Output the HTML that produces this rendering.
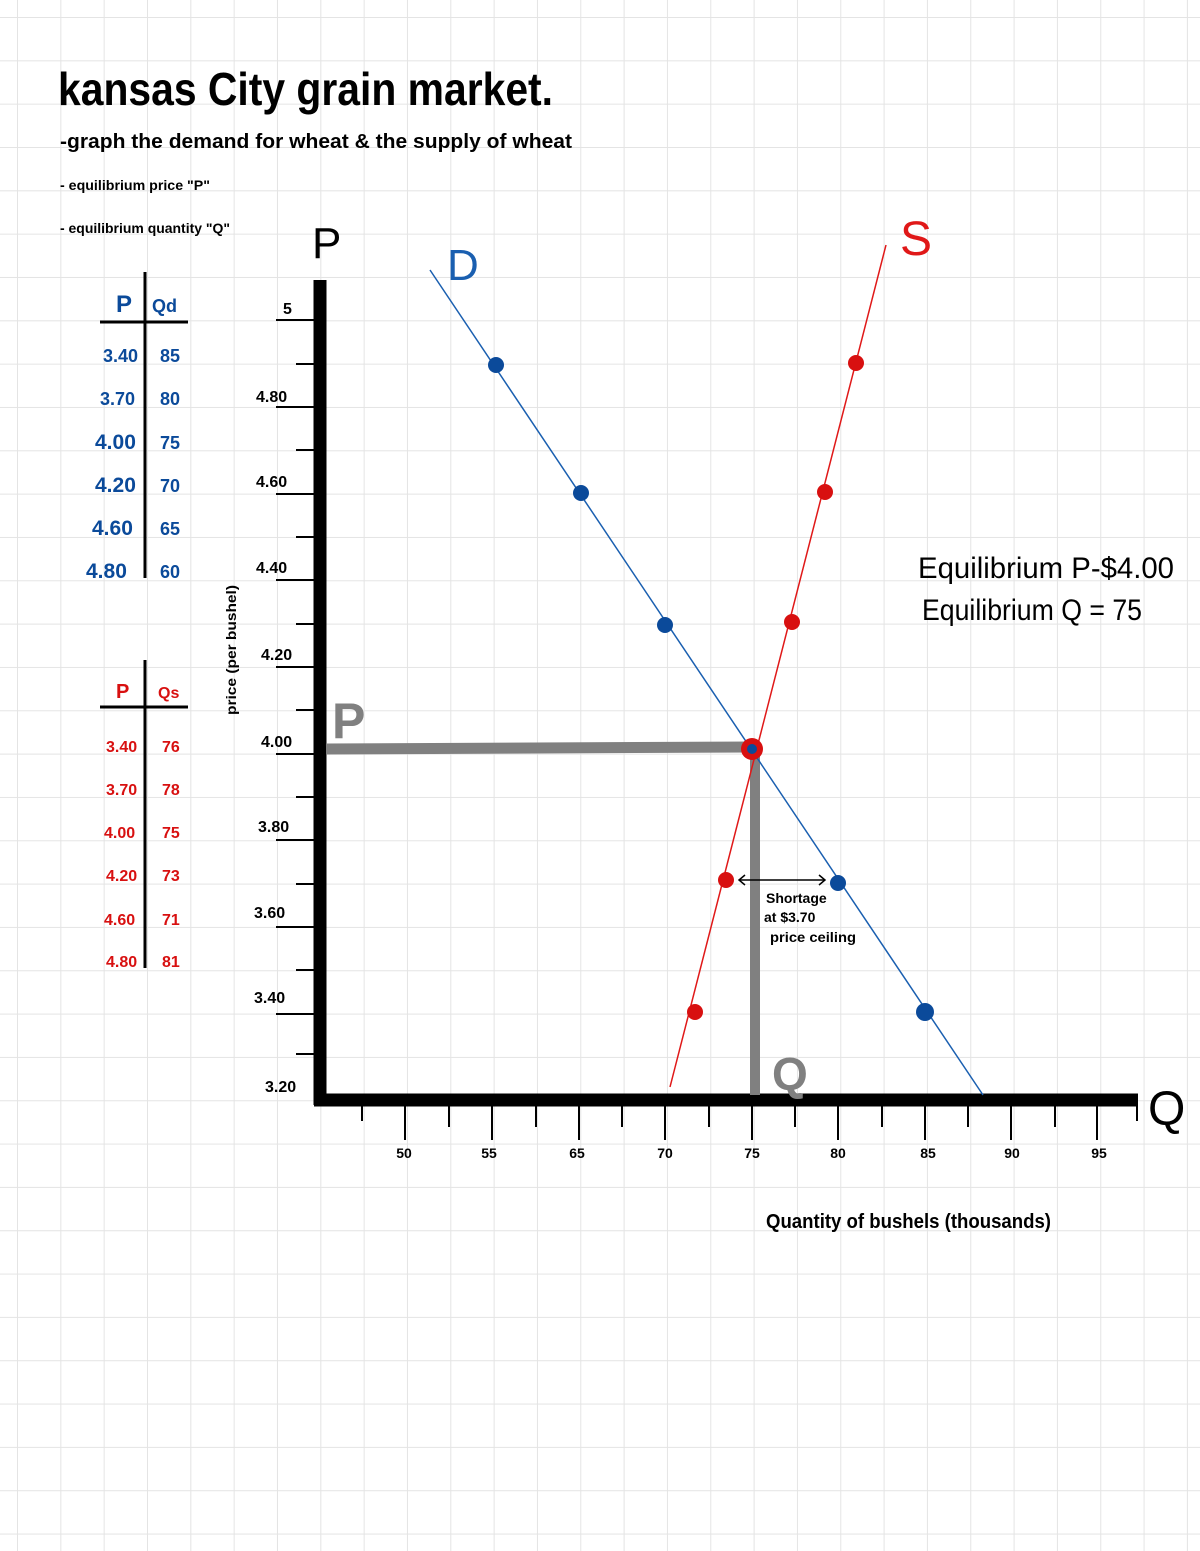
<!DOCTYPE html>
<html><head><meta charset="utf-8"><style>
html,body{margin:0;padding:0;background:#fff}
svg{display:block}
text{font-family:"Liberation Sans",sans-serif}
</style></head><body>
<svg width="1200" height="1551" viewBox="0 0 1200 1551" xmlns="http://www.w3.org/2000/svg">
<defs>
<pattern id="g" x="17" y="17" width="43.33" height="43.33" patternUnits="userSpaceOnUse">
<path d="M0 0H43.33M0 0V43.33" stroke="#e4e4e4" stroke-width="2" fill="none"/>
</pattern>
</defs>
<rect width="1200" height="1551" fill="#fff"/>
<rect width="1200" height="1551" fill="url(#g)"/>

<!-- title -->
<text x="58" y="105" font-size="46" font-weight="bold" textLength="495" lengthAdjust="spacingAndGlyphs" fill="#000">kansas City  grain market.</text>
<text x="60" y="148" font-size="20" font-weight="bold" textLength="512" lengthAdjust="spacingAndGlyphs">-graph the demand for wheat &amp; the supply of wheat</text>
<text x="60" y="190" font-size="14" font-weight="bold" textLength="150" lengthAdjust="spacingAndGlyphs">- equilibrium price "P"</text>
<text x="60" y="233" font-size="14" font-weight="bold" textLength="170" lengthAdjust="spacingAndGlyphs">- equilibrium quantity "Q"</text>

<!-- blue table -->
<g fill="#0b4a9a" font-weight="bold" font-size="18">
<line x1="145" y1="272" x2="145" y2="578" stroke="#000" stroke-width="3"/>
<line x1="100" y1="322" x2="188" y2="322" stroke="#000" stroke-width="3"/>
<text x="116" y="312" font-size="24">P</text><text x="152" y="312">Qd</text>
<text x="103" y="362">3.40</text><text x="160" y="362">85</text>
<text x="100" y="405">3.70</text><text x="160" y="405">80</text>
<text x="95" y="449" font-size="21">4.00</text><text x="160" y="449">75</text>
<text x="95" y="492" font-size="21">4.20</text><text x="160" y="492">70</text>
<text x="92" y="535" font-size="21">4.60</text><text x="160" y="535">65</text>
<text x="86" y="578" font-size="21">4.80</text><text x="160" y="578">60</text>
</g>
<!-- red table -->
<g fill="#d81010" font-weight="bold" font-size="16">
<line x1="145" y1="660" x2="145" y2="968" stroke="#000" stroke-width="3"/>
<line x1="100" y1="707" x2="188" y2="707" stroke="#000" stroke-width="3"/>
<text x="116" y="698" font-size="20">P</text><text x="158" y="698">Qs</text>
<text x="106" y="752">3.40</text><text x="162" y="752">76</text>
<text x="106" y="795">3.70</text><text x="162" y="795">78</text>
<text x="104" y="838">4.00</text><text x="162" y="838">75</text>
<text x="106" y="881">4.20</text><text x="162" y="881">73</text>
<text x="104" y="925">4.60</text><text x="162" y="925">71</text>
<text x="106" y="967">4.80</text><text x="162" y="967">81</text>
</g>

<!-- y axis label -->
<text transform="translate(236,715) rotate(-90)" font-size="14" font-weight="bold" textLength="130" lengthAdjust="spacingAndGlyphs">price (per bushel)</text>

<!-- axes -->
<text x="312" y="258" font-size="44">P</text>
<text x="1148" y="1125" font-size="48">Q</text>
<line x1="320" y1="280" x2="320" y2="1105" stroke="#000" stroke-width="13"/>
<line x1="314" y1="1100" x2="1138" y2="1100" stroke="#000" stroke-width="13"/>

<!-- y ticks -->
<g stroke="#000" stroke-width="2">
<line x1="276" y1="320" x2="320" y2="320"/>
<line x1="296" y1="364" x2="320" y2="364"/>
<line x1="276" y1="407" x2="320" y2="407"/>
<line x1="296" y1="450" x2="320" y2="450"/>
<line x1="276" y1="494" x2="320" y2="494"/>
<line x1="296" y1="537" x2="320" y2="537"/>
<line x1="276" y1="580" x2="320" y2="580"/>
<line x1="296" y1="624" x2="320" y2="624"/>
<line x1="276" y1="667" x2="320" y2="667"/>
<line x1="296" y1="710" x2="320" y2="710"/>
<line x1="276" y1="754" x2="320" y2="754"/>
<line x1="296" y1="797" x2="320" y2="797"/>
<line x1="276" y1="840" x2="320" y2="840"/>
<line x1="296" y1="884" x2="320" y2="884"/>
<line x1="276" y1="927" x2="320" y2="927"/>
<line x1="296" y1="970" x2="320" y2="970"/>
<line x1="276" y1="1014" x2="320" y2="1014"/>
<line x1="296" y1="1054" x2="320" y2="1054"/>
</g>
<g font-size="16" font-weight="bold">
<text x="283" y="314">5</text>
<text x="256" y="402">4.80</text>
<text x="256" y="487">4.60</text>
<text x="256" y="573">4.40</text>
<text x="261" y="660">4.20</text>
<text x="261" y="747">4.00</text>
<text x="258" y="832">3.80</text>
<text x="254" y="918">3.60</text>
<text x="254" y="1003">3.40</text>
<text x="265" y="1092">3.20</text>
</g>

<!-- x ticks -->
<g stroke="#000" stroke-width="2">
<line x1="362" y1="1100" x2="362" y2="1121"/>
<line x1="405" y1="1100" x2="405" y2="1140"/>
<line x1="449" y1="1100" x2="449" y2="1127"/>
<line x1="492" y1="1100" x2="492" y2="1140"/>
<line x1="536" y1="1100" x2="536" y2="1127"/>
<line x1="579" y1="1100" x2="579" y2="1140"/>
<line x1="622" y1="1100" x2="622" y2="1127"/>
<line x1="665" y1="1100" x2="665" y2="1140"/>
<line x1="709" y1="1100" x2="709" y2="1127"/>
<line x1="752" y1="1100" x2="752" y2="1140"/>
<line x1="795" y1="1100" x2="795" y2="1127"/>
<line x1="838" y1="1100" x2="838" y2="1140"/>
<line x1="882" y1="1100" x2="882" y2="1127"/>
<line x1="925" y1="1100" x2="925" y2="1140"/>
<line x1="968" y1="1100" x2="968" y2="1127"/>
<line x1="1011" y1="1100" x2="1011" y2="1140"/>
<line x1="1055" y1="1100" x2="1055" y2="1127"/>
<line x1="1097" y1="1100" x2="1097" y2="1140"/>
<line x1="1137" y1="1100" x2="1137" y2="1121"/>
</g>
<g font-size="14" font-weight="bold" text-anchor="middle">
<text x="404" y="1158">50</text><text x="489" y="1158">55</text><text x="577" y="1158">65</text>
<text x="665" y="1158">70</text><text x="752" y="1158">75</text><text x="838" y="1158">80</text>
<text x="928" y="1158">85</text><text x="1012" y="1158">90</text><text x="1099" y="1158">95</text>
</g>
<text x="766" y="1228" font-size="20" font-weight="bold" textLength="285" lengthAdjust="spacingAndGlyphs">Quantity of bushels (thousands)</text>

<!-- equilibrium guide lines -->
<line x1="326" y1="749" x2="754" y2="747" stroke="#808080" stroke-width="11"/>
<line x1="755" y1="748" x2="755" y2="1095" stroke="#808080" stroke-width="10"/>
<text x="332" y="738" font-size="50" font-weight="bold" fill="#808080">P</text>
<text x="772" y="1090" font-size="46" font-weight="bold" fill="#808080">Q</text>

<!-- demand -->
<line x1="430" y1="270" x2="983" y2="1095" stroke="#1a5fb0" stroke-width="1.5"/>
<g fill="#0b4a9a">
<circle cx="496" cy="365" r="8"/><circle cx="581" cy="493" r="8"/><circle cx="665" cy="625" r="8"/>
<circle cx="838" cy="883" r="8"/><circle cx="925" cy="1012" r="9"/>
</g>
<text x="447" y="280" font-size="44" fill="#1a5fb0">D</text>

<!-- supply -->
<line x1="670" y1="1087" x2="886" y2="245" stroke="#e01818" stroke-width="1.5"/>
<g fill="#d81010">
<circle cx="695" cy="1012" r="8"/><circle cx="726" cy="880" r="8"/><circle cx="792" cy="622" r="8"/>
<circle cx="825" cy="492" r="8"/><circle cx="856" cy="363" r="8"/>
</g>
<text x="900" y="255" font-size="48" fill="#e01818">S</text>
<circle cx="752" cy="749" r="11" fill="#d81010"/>
<circle cx="752" cy="749" r="5" fill="#0b4a9a"/>

<!-- shortage -->
<line x1="740" y1="880" x2="824" y2="880" stroke="#000" stroke-width="1.5"/>
<path d="M745 875 L739 880 L745 885 M819 875 L825 880 L819 885" stroke="#000" stroke-width="1.5" fill="none"/>
<g font-size="14" font-weight="bold">
<text x="766" y="903">Shortage</text>
<text x="764" y="922">at $3.70</text>
<text x="770" y="942" textLength="86" lengthAdjust="spacingAndGlyphs">price ceiling</text>
</g>

<!-- equilibrium text -->
<text x="918" y="578" font-size="30" textLength="256" lengthAdjust="spacingAndGlyphs">Equilibrium  P-$4.00</text>
<text x="922" y="620" font-size="30" textLength="220" lengthAdjust="spacingAndGlyphs">Equilibrium  Q = 75</text>
</svg>
</body></html>
